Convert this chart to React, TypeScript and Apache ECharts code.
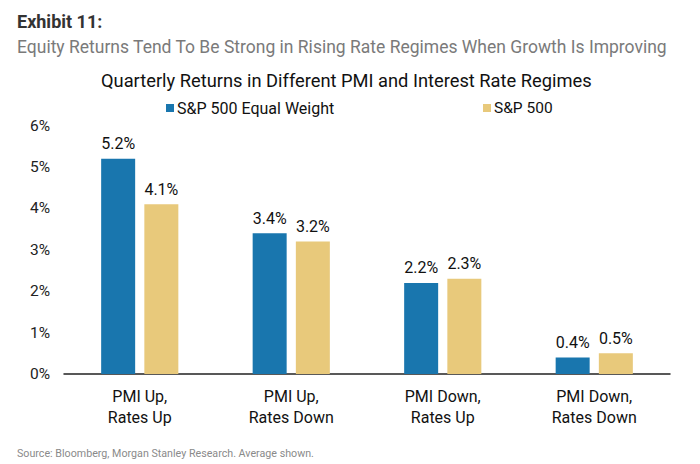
import React, { useEffect, useRef } from "react";
import * as echarts from "echarts";

const categories = ["PMI Up,\nRates Up", "PMI Up,\nRates Down", "PMI Down,\nRates Up", "PMI Down,\nRates Down"];
const equalWeight = [5.2, 3.4, 2.2, 0.4];
const sp500 = [4.1, 3.2, 2.3, 0.5];
const seriesNames = ["S&P 500 Equal Weight", "S&P 500"];

const FONT = "Roboto, 'Liberation Sans', sans-serif";

export default function App() {
  const ref = useRef<HTMLDivElement>(null);
  useEffect(() => {
    if (!ref.current) return;
    const chart = echarts.init(ref.current, null, { renderer: "svg" });
    chart.setOption({
      animation: false,
      backgroundColor: "#ffffff",
      textStyle: { fontFamily: FONT },
      title: [
        {
          text: "Exhibit 11:",
          left: 12,
          top: 7,
          textStyle: { fontSize: 18, fontWeight: "bold", color: "#333333", fontFamily: FONT },
        },
        {
          text: "Equity Returns Tend To Be Strong in Rising Rate Regimes When Growth Is Improving",
          left: 12,
          top: 33,
          textStyle: { fontSize: 17.5, fontWeight: "normal", color: "#7a7a7a", fontFamily: FONT },
        },
        {
          text: "Quarterly Returns in Different PMI and Interest Rate Regimes",
          left: 96,
          top: 66,
          textStyle: { fontSize: 18.3, fontWeight: "normal", color: "#111111", fontFamily: FONT },
        },
        {
          text: "Source: Bloomberg, Morgan Stanley Research. Average shown.",
          left: 12,
          top: 443,
          textStyle: { fontSize: 10.7, fontWeight: "normal", color: "#8a8a8a", fontFamily: FONT },
        },
      ],
      legend: [
        {
          data: [seriesNames[0]],
          left: 161,
          top: 95,
          icon: "rect",
          itemWidth: 8,
          itemHeight: 8,
          itemGap: 4,
          textStyle: { fontSize: 16, color: "#111111", fontFamily: FONT, padding: [0, 0, 0, -2] },
        },
        {
          data: [seriesNames[1]],
          left: 478,
          top: 95,
          icon: "rect",
          itemWidth: 8,
          itemHeight: 8,
          itemGap: 4,
          textStyle: { fontSize: 15.5, color: "#111111", fontFamily: FONT, padding: [0, 0, 0, -2] },
        },
      ],
      grid: { left: 64, right: 30, top: 125.5, bottom: 90 },
      xAxis: {
        type: "category",
        data: categories,
        axisLine: { lineStyle: { color: "#222222", width: 1.5 } },
        axisTick: { show: false },
        axisLabel: { fontSize: 16, color: "#111111", lineHeight: 21, margin: 12, fontFamily: FONT },
      },
      yAxis: {
        type: "value",
        min: 0,
        max: 6,
        interval: 1,
        splitLine: { show: false },
        axisLine: { show: false },
        axisTick: { show: false },
        axisLabel: {
          fontSize: 15.5,
          color: "#222222",
          margin: 14,
          fontFamily: FONT,
          formatter: (v: number) => v + "%",
        },
      },
      series: [
        {
          name: seriesNames[0],
          type: "bar",
          data: equalWeight,
          barWidth: 34,
          barGap: "27%",
          itemStyle: { color: "#1976AE" },
          label: {
            show: true,
            position: "top",
            distance: 7,
            fontSize: 16,
            color: "#111111",
            fontFamily: FONT,
            formatter: (p: any) => p.value.toFixed(1) + "%",
          },
        },
        {
          name: seriesNames[1],
          type: "bar",
          data: sp500,
          barWidth: 34,
          itemStyle: { color: "#E8C97B" },
          label: {
            show: true,
            position: "top",
            distance: 7,
            fontSize: 16,
            color: "#111111",
            fontFamily: FONT,
            formatter: (p: any) => p.value.toFixed(1) + "%",
          },
        },
      ],
    });
    return () => chart.dispose();
  }, []);
  return (
    <div
      ref={ref}
      style={{ position: "absolute", left: 0, top: 0, width: 700, height: 464 }}
    />
  );
}
